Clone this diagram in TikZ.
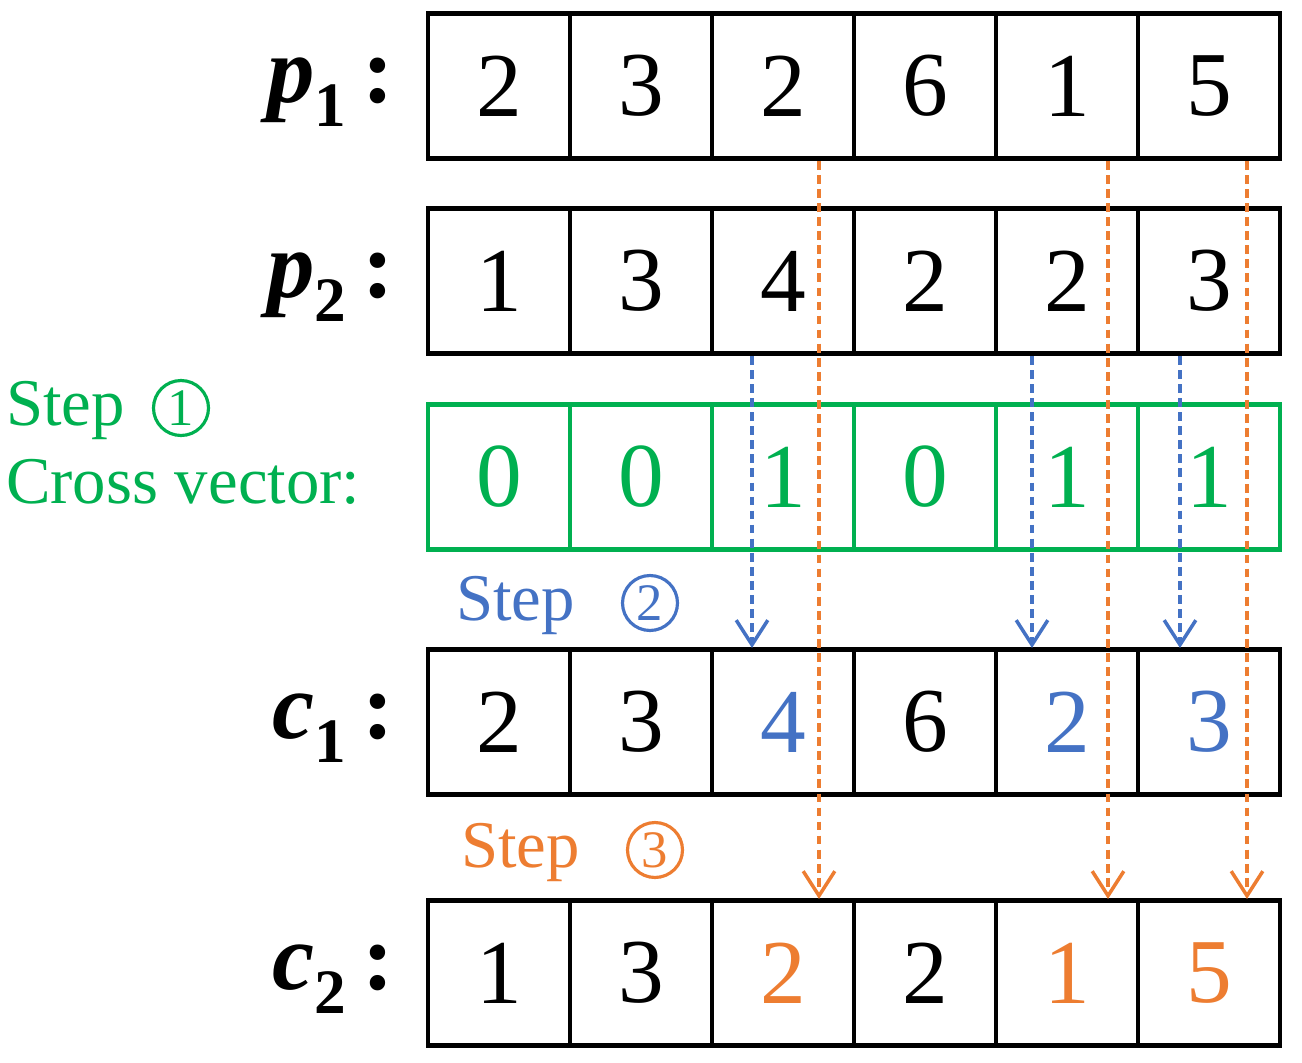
\documentclass[tikz,border=0pt]{standalone}
\usepackage{fontspec}
\newfontfamily\serf{Liberation Serif}
\usetikzlibrary{arrows.meta}
\definecolor{cgreen}{RGB}{0,176,80}
\definecolor{cblue}{RGB}{68,114,196}
\definecolor{corange}{RGB}{237,125,49}
\tikzset{
 cell/.style={draw,line width=2.4pt,minimum width=2.84cm,minimum height=2.9cm,inner sep=0pt,font=\serf\fontsize{52}{54}\selectfont},
 lab/.style={anchor=east,font=\serf\fontsize{54}{56}\selectfont},
 arr/.style={dash pattern=on 5pt off 3pt,line width=2pt,-{Straight Barb[length=14pt,width=18pt,line width=2pt]}},
 steplab/.style={anchor=west,font=\serf\fontsize{38}{40}\selectfont},
 circnum/.style={circle,draw,line width=1.8pt,inner sep=1pt,minimum size=1.1cm,font=\serf\fontsize{30}{32}\selectfont}
}
\newcommand\cellrow[3]{%
 \foreach \v/\c [count=\i] in {#3} {
  \node[cell,text=\c] (#1\i) at ({428+71+142*(\i-1)},#2) {\v};
 }}
\newcommand\lbl[2]{\textit{\textbf{#1}}\raisebox{-0.25em}{\fontsize{36}{38}\selectfont\textbf{#2}}\,\textbf{:}}
\begin{document}
\begin{tikzpicture}[x=0.02cm,y=-0.02cm]
\useasboundingbox (0,0) rectangle (1302,1062);
\cellrow{a}{86}{2/black,3/black,2/black,6/black,1/black,5/black}
\cellrow{b}{281}{1/black,3/black,4/black,2/black,2/black,3/black}
\begin{scope}[every node/.append style={draw=cgreen}]
\cellrow{x}{477}{0/cgreen,0/cgreen,1/cgreen,0/cgreen,1/cgreen,1/cgreen}
\end{scope}
\cellrow{c}{722}{2/black,3/black,4/cblue,6/black,2/cblue,3/cblue}
\cellrow{d}{973}{1/black,3/black,2/corange,2/black,1/corange,5/corange}
\node[lab] (la) at (400,92) {\lbl{p}{1}};
\node[lab] (lb) at (400,287) {\lbl{p}{2}};
\node[lab] (lc) at (400,728) {\lbl{c}{1}};
\node[lab] (ld) at (400,979) {\lbl{c}{2}};
\node[steplab,text=cgreen] (s1) at (0,410) {Step};
\node[circnum,draw=cgreen,text=cgreen] (n1) at (181,408) {1};
\node[steplab,text=cgreen] (s1b) at (0,482) {Cross vector:};
\node[steplab,text=cblue] (s2) at (450,605) {Step};
\node[circnum,draw=cblue,text=cblue] (n2) at (650,603) {2};
\node[steplab,text=corange] (s3) at (455,852) {Step};
\node[circnum,draw=corange,text=corange] (n3) at (655,850) {3};
\foreach \x/\n in {752/1,1032/2,1180/3} {
 \coordinate (bs\n) at (\x,356); \coordinate (be\n) at (\x,648);
 \draw[arr,cblue] (bs\n) -- (be\n);
}
\foreach \x/\n in {819/1,1108/2,1247/3} {
 \coordinate (os\n) at (\x,161); \coordinate (oe\n) at (\x,899);
 \draw[arr,corange] (os\n) -- (oe\n);
}
\end{tikzpicture}
\end{document}
